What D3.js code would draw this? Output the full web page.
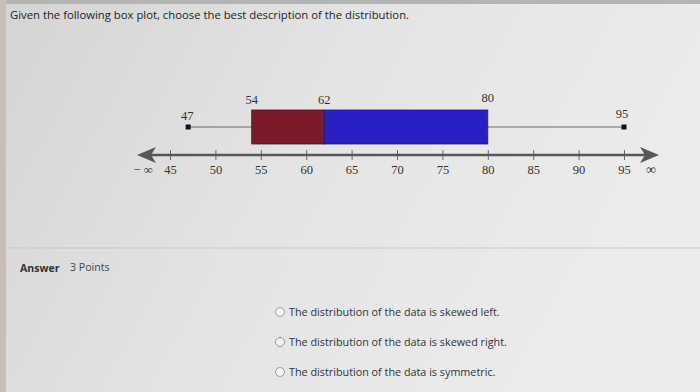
<!DOCTYPE html>
<html><head><meta charset="utf-8">
<script src="https://cdn.jsdelivr.net/npm/d3@7"></script>
<style>
html,body{margin:0;padding:0;overflow:hidden;}
svg{display:block;}
</style></head>
<body>
<script>
// ---- data ----
const title = "Given the following box plot, choose the best description of the distribution.";
const fiveNumber = [47, 54, 62, 80, 95]; // min, Q1, median, Q3, max
const fiveLabels = ["47", "54", "62", "80", "95"];
const tickValues = [45, 50, 55, 60, 65, 70, 75, 80, 85, 90, 95];
const answerLabel = "Answer";
const pointsLabel = "3 Points";
const options = [
  "The distribution of the data is skewed left.",
  "The distribution of the data is skewed right.",
  "The distribution of the data is symmetric."
];

const W = 700, H = 392;
const svg = d3.select("body").append("svg").attr("width", W).attr("height", H);
const defs = svg.append("defs");
const g1 = defs.append("linearGradient").attr("id","bg").attr("x1","0").attr("x2","1").attr("y1","0").attr("y2","0.3");
g1.append("stop").attr("offset","0").attr("stop-color","#d4d4d4");
g1.append("stop").attr("offset","0.5").attr("stop-color","#e4e4e4");
g1.append("stop").attr("offset","1").attr("stop-color","#ececec");
svg.append("rect").attr("width",W).attr("height",H).attr("fill","url(#bg)");
svg.append("rect").attr("width",W).attr("height",4).attr("fill","#b4b4b4");
svg.append("rect").attr("width",6).attr("height",H).attr("fill","#c9bcb9");
// divider
svg.append("line").attr("x1",6).attr("x2",W).attr("y1",248).attr("y2",248).attr("stroke","#c9c9c9").attr("stroke-width",1);

svg.append("text").attr("x",10).attr("y",19).text(title)
  .attr("font-family","Open Sans").attr("font-size",11.3).attr("fill","#222");

// ---- scale & axis ----
const x = d3.scaleLinear().domain([45, 95]).range([170, 624]);
const axisY = 155;
const axisColor = "#575757";
const axis = d3.axisBottom(x).tickValues(tickValues).tickSize(0).tickPadding(0);
const ag = svg.append("g").attr("transform", `translate(0,${axisY})`).call(axis);
ag.select(".domain").remove();
ag.selectAll(".tick line").attr("y1",-5).attr("y2",5).attr("stroke","#6a6a6a").attr("stroke-width",1);
ag.selectAll(".tick text").attr("y",19).attr("dy",0).attr("font-family","Liberation Serif")
  .attr("font-size",12.5).attr("fill","#333");
svg.append("line").attr("x1",146).attr("x2",650).attr("y1",axisY).attr("y2",axisY)
  .attr("stroke",axisColor).attr("stroke-width",2.4);
svg.append("path").attr("d",`M137,${axisY} L156,${axisY-8} L151,${axisY} L156,${axisY+8} Z`).attr("fill",axisColor);
svg.append("path").attr("d",`M659,${axisY} L640,${axisY-8} L645,${axisY} L640,${axisY+8} Z`).attr("fill",axisColor);
svg.append("text").attr("x",143).attr("y",axisY+19).attr("text-anchor","middle").text("− ∞")
  .attr("font-family","Liberation Serif").attr("font-size",12.5).attr("fill","#333");
svg.append("text").attr("x",651).attr("y",axisY+19).attr("text-anchor","middle").text("∞")
  .attr("font-family","Liberation Serif").attr("font-size",14).attr("fill","#333");

// ---- box plot ----
const [mn, q1, med, q3, mx] = fiveNumber;
const boxTop = 110, boxBot = 144, wy = 127;
svg.append("line").attr("x1",x(mn)).attr("x2",x(q1)).attr("y1",wy).attr("y2",wy).attr("stroke","#6a6a6a").attr("stroke-width",1.2);
svg.append("line").attr("x1",x(q3)).attr("x2",x(mx)).attr("y1",wy).attr("y2",wy).attr("stroke","#6a6a6a").attr("stroke-width",1.2);
svg.append("rect").attr("x",x(q1)).attr("y",boxTop).attr("width",x(med)-x(q1)).attr("height",boxBot-boxTop)
  .attr("fill","#7a1b2c").attr("stroke","#3a1a20").attr("stroke-width",0.8);
svg.append("rect").attr("x",x(med)).attr("y",boxTop).attr("width",x(q3)-x(med)).attr("height",boxBot-boxTop)
  .attr("fill","#2a1fc2").attr("stroke","#221a70").attr("stroke-width",0.8);
[mn, mx].forEach(v => svg.append("rect").attr("x",x(v)-2.5).attr("y",wy-2.5).attr("width",5).attr("height",5).attr("fill","#111"));

const labelYs = [120, 104, 104, 102, 118];
fiveNumber.forEach((v,i) => {
  svg.append("text").attr("x",x(v)+ (i===0?-1:i===4?-2:0)).attr("y",labelYs[i]).attr("text-anchor","middle")
    .text(fiveLabels[i]).attr("font-family","Liberation Serif").attr("font-size",12.5).attr("fill","#333");
});

// ---- answer section ----
svg.append("text").attr("x",20).attr("y",272).text(answerLabel)
  .attr("font-family","Open Sans").attr("font-weight","bold").attr("font-size",10.6).attr("fill","#333");
svg.append("text").attr("x",70).attr("y",271).text(pointsLabel)
  .attr("font-family","Open Sans").attr("font-size",10.6).attr("fill","#444");
const optY = d3.scalePoint().domain(options).range([312, 372]);
options.forEach(o => {
  svg.append("circle").attr("cx",280).attr("cy",optY(o)).attr("r",4.5).attr("fill","#f4f4f4").attr("stroke","#9a9a9a").attr("stroke-width",1);
  svg.append("text").attr("x",289).attr("y",optY(o)+3.5).text(o)
    .attr("font-family","Open Sans").attr("font-size",10.8).attr("fill","#333");
});
</script>
</body></html>
